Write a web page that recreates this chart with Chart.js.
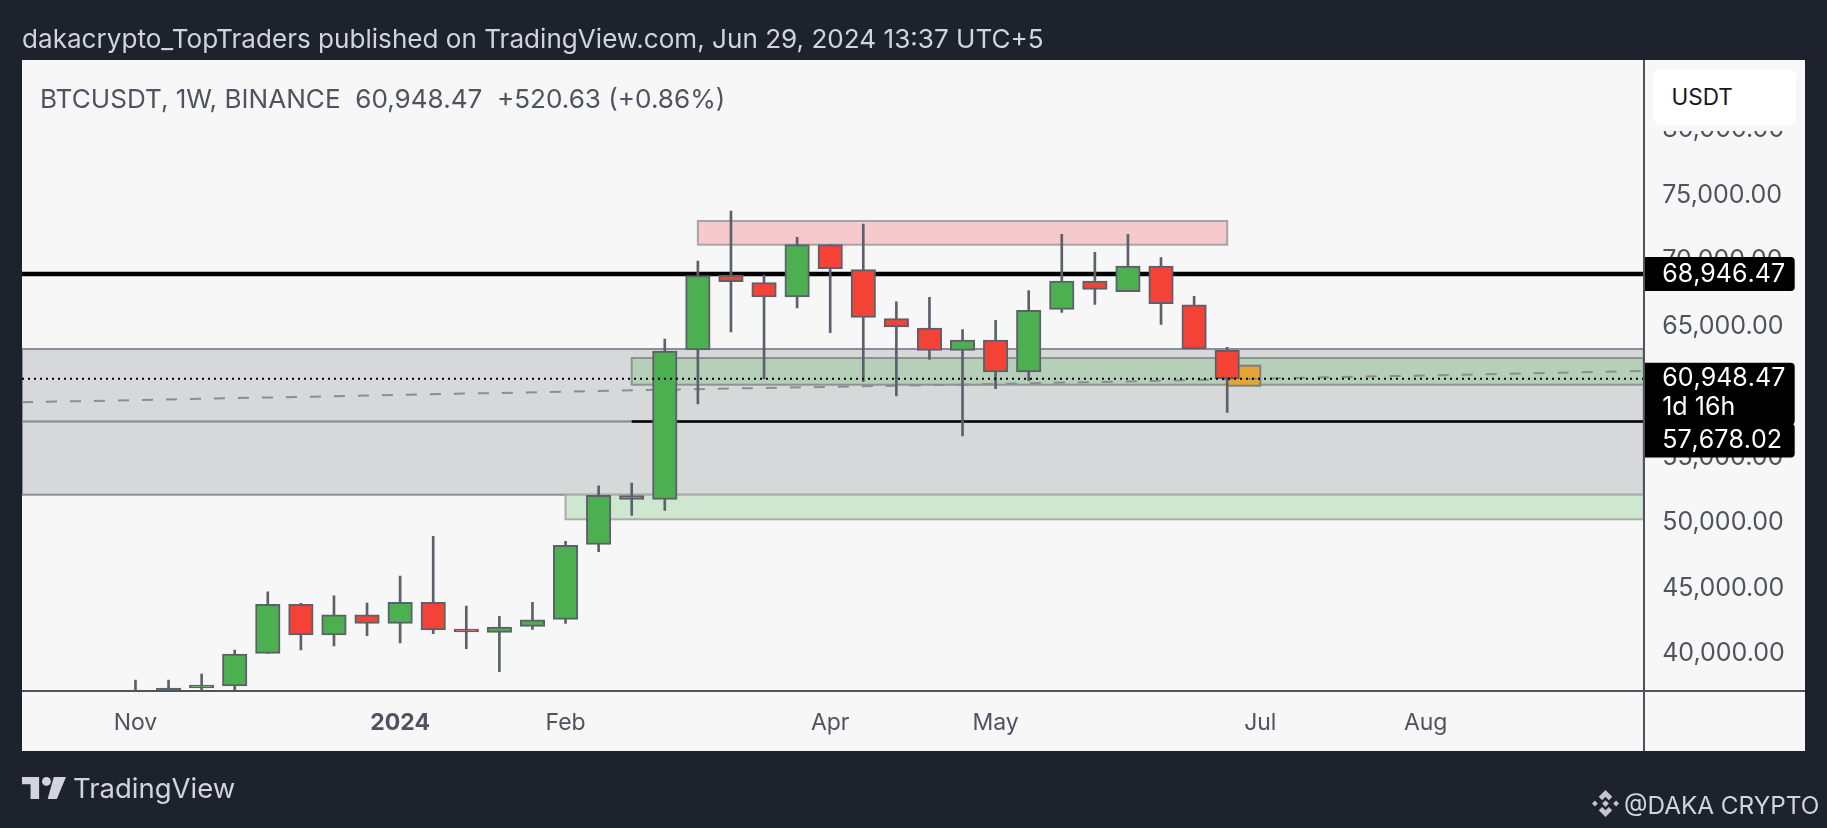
<!DOCTYPE html>
<html lang="en">
<head>
  <meta charset="UTF-8" />
  <title>BTCUSDT 1W</title>
  <script src="https://cdn.jsdelivr.net/npm/chart.js"></script>
  <style>
    html, body { margin: 0; width: 1827px; height: 828px; overflow: hidden; background: #1e222d; font-family: Inter, sans-serif; }
    .abs { position: absolute; white-space: nowrap; }
    #panel { left: 22px; top: 59.5px; width: 1782.5px; height: 691px; background: #f7f7f7; }
    #chart { position: absolute; left: 0; top: 0; }
    #title { left: 22px; top: 24px; font-size: 26.1px; line-height: 30px; color: #d1d4dc; }
    #legend { left: 40px; top: 84px; font-size: 26.1px; line-height: 30px; color: #50535e; white-space: pre; }
    #vline { left: 1643px; top: 59.5px; width: 1.5px; height: 691px; background: #50535e; }
    #hline { left: 22px; top: 690px; width: 1782.5px; height: 2px; background: #50535e; }
    #mask { left: 1644.5px; top: 60px; width: 160px; height: 71px; background: #f7f7f7; }
    #usdt { left: 1652.5px; top: 68.5px; width: 143px; height: 56px; background: #fff; border-radius: 8px; color: #131722; font-size: 22.5px; line-height: 56px; text-indent: 19px; }
    #logo { left: 22px; top: 777px; width: 44px; height: 22px; fill: #d1d4dc; }
    #brand { left: 73px; top: 772px; font-size: 27.5px; line-height: 32px; color: #d1d4dc; }
    #mark { left: 1592px; top: 790px; width: 27px; height: 27px; fill: #c3c6ce; }
    #credit { left: 1624px; top: 790px; font-size: 24.3px; line-height: 30px; color: #d1d4dc; }
  </style>
</head>
<body>
  <div class="abs" id="panel"></div>
  <canvas id="chart" width="1827" height="828"></canvas>
  <div class="abs" id="vline"></div>
  <div class="abs" id="hline"></div>
  <div class="abs" id="mask"></div>
  <div class="abs" id="usdt">USDT</div>
  <div class="abs" id="title">dakacrypto_TopTraders published on TradingView.com, Jun 29, 2024 13:37 UTC+5</div>
  <div class="abs" id="legend">BTCUSDT, 1W, BINANCE  60,948.47  +520.63 (+0.86%)</div>
  <svg class="abs" id="logo" viewBox="0 0 36 18"><path d="M14 0H0v6h7v12h7zM28.500 18H21L26 0h10z"/><circle cx="20" cy="3.600" r="3.600"/></svg>
  <div class="abs" id="brand">TradingView</div>
  <svg class="abs" id="mark" viewBox="0 0 28 28"><path d="M14 0l7 7-3.500 3.500L14 7l-3.500 3.500L7 7zM14 28l-7-7 3.500-3.500L14 21l3.500-3.500L21 21zM3 11l3 3-3 3-3-3zM25 11l3 3-3 3-3-3zM14 10.500l3.500 3.500-3.500 3.500-3.500-3.500z"/></svg>
  <div class="abs" id="credit">@DAKA CRYPTO</div>

  <script>
    // weekly candles (first three sit partly under the axis)
    const opens  = [36100, 36600, 37341, 37494, 39990, 43731, 41387, 42937, 42280, 43884, 41845, 41593, 42051, 42586, 48311, 52036, 51746, 63144, 68870, 68282, 67190, 71183, 69274, 65534, 64824, 63121, 63908, 61465, 66251, 68412, 67595, 69557, 66602, 63121];
    const closes = [36600, 37341, 37570, 39937, 43731, 41387, 42937, 42280, 43884, 41769, 41616, 41998, 42555, 48235, 52052, 51731, 63068, 68816, 68358, 67190, 71183, 69351, 65640, 64900, 63121, 63908, 61465, 66175, 68412, 67778, 69557, 66679, 63220, 60948.47];
    const highs  = [37952, 37952, 38410, 40242, 44693, 43807, 44387, 43830, 45891, 48922, 43601, 42815, 43884, 48540, 52785, 52991, 63984, 69938, 73755, 68870, 71748, 71183, 72763, 66831, 67167, 64694, 65411, 67671, 71977, 70603, 71977, 70190, 67244, 63350];
    const lows   = [35900, 36300, 37135, 37100, 39990, 40242, 40548, 41334, 40777, 41486, 40341, 38585, 41822, 42280, 47746, 50525, 50907, 59022, 64518, 60930, 66350, 64465, 60724, 59633, 62434, 56579, 60190, 60801, 66022, 66633, 67595, 65106, 63220, 58388];

    const xTickWeeks  = [0, 8, 13, 21, 26, 34, 39];
    const xTickLabels = ["Nov", "2024", "Feb", "Apr", "May", "Jul", "Aug"];
    const yTickValues = [40000, 45000, 50000, 55000, 60000, 65000, 70000, 75000, 80000];
    const xRange = [-3.43, 45.59];
    const yRange = [37114, 85320];

    // horizontal levels and the long moving average
    const resistanceLine = 68946.47;
    const supportLine = 57678.02;
    const supportFromWeek = 15;
    const lastPrice = 60948.47;
    const maWeeks  = [-3.43, 16, 26, 34, 45.59];
    const maPrices = [59152, 60114, 60549, 60953, 61541];

    // drawn zones: grey, grey, green, green, pink, orange
    const boxStartWeeks = [-3.43, -3.43, 15, 13, 17, 33];
    const boxEndWeeks   = [45.59, 45.59, 45.59, 45.59, 33, 34];
    const boxHighPrices = [63220, 57678, 62533, 52098, 72992, 61946];
    const boxLowPrices  = [57678, 52098, 60495, 50220, 71183, 60419];

    const priceTags = [68946.47, 60948.47, 57678.02];
    const countdown = "1d 16h";

    const boxFills   = ["#d7d8da", "#d7d8da", "#b5cfb8", "#cfe7d1", "#f6c9cd", "#e6a530"];
    const boxStrokes = ["#8c8e97", "#8c8e97", "#8c9690", "#a6b0a8", "#a8a3a5", "#7f7f82"];
    const tagOffsets = [0, 0, 19];
    const tagBelow   = [17, 46, 17];
    const tagAbove   = [17, 16, 17];

    const money = v => v.toLocaleString("en-US", { minimumFractionDigits: 2, maximumFractionDigits: 2 });
    const CANDLE_EDGE = "#5d606b";
    const TEXT = "#50535e";

    const zonesPlugin = {
      id: "zones",
      beforeDatasetsDraw(chart) {
        const { ctx, chartArea, scales: { x, y } } = chart;
        ctx.save();
        ctx.beginPath();
        ctx.rect(chartArea.left, chartArea.top, chartArea.width, chartArea.height);
        ctx.clip();
        boxStartWeeks.forEach((start, i) => {
          const left = x.getPixelForValue(start);
          const right = x.getPixelForValue(boxEndWeeks[i]);
          const top = y.getPixelForValue(boxHighPrices[i]);
          const bottom = y.getPixelForValue(boxLowPrices[i]);
          ctx.fillStyle = boxFills[i];
          ctx.fillRect(left, top, right - left, bottom - top);
          ctx.strokeStyle = boxStrokes[i];
          ctx.lineWidth = 2;
          ctx.strokeRect(left, top, right - left, bottom - top);
        });
        ctx.restore();
      }
    };

    const tagsPlugin = {
      id: "tags",
      afterDraw(chart) {
        const { ctx, chartArea, scales: { y } } = chart;
        ctx.save();
        ctx.font = "25px Inter, sans-serif";
        ctx.fontKerning = "none";
        ctx.textBaseline = "middle";
        priceTags.forEach((price, i) => {
          const mid = y.getPixelForValue(price) + tagOffsets[i];
          ctx.fillStyle = "#000";
          ctx.beginPath();
          ctx.roundRect(chartArea.right, mid - tagAbove[i], 151, tagAbove[i] + tagBelow[i], [0, 4, 4, 0]);
          ctx.fill();
          ctx.fillStyle = "#fff";
          ctx.fillText(money(price), chartArea.right + 18.5, mid);
          if (price === lastPrice) ctx.fillText(countdown, chartArea.right + 18.5, mid + 28.5);
        });
        ctx.restore();
      }
    };

    const weeks = opens.map((_, i) => i);
    const level = (from, value) => [{ x: from, y: value }, { x: xRange[1], y: value }];

    new Chart(document.getElementById("chart"), {
      data: {
        datasets: [
          { type: "bar", grouped: false, order: 2, barThickness: 2,
            data: weeks.map(i => ({ x: i, y: [lows[i], highs[i]] })),
            backgroundColor: CANDLE_EDGE },
          { type: "bar", grouped: false, order: 1, barThickness: 24.5, borderWidth: 2, borderSkipped: false,
            data: weeks.map(i => ({ x: i, y: [opens[i], closes[i]] })),
            backgroundColor: weeks.map(i => closes[i] >= opens[i] ? "#4caf50" : "#f44336"),
            borderColor: CANDLE_EDGE },
          { type: "line", order: 5, data: level(xRange[0], resistanceLine), borderColor: "#000", borderWidth: 4.5, pointRadius: 0 },
          { type: "line", order: 4, data: level(supportFromWeek, supportLine), borderColor: "#000", borderWidth: 2.5, pointRadius: 0 },
          { type: "line", order: 3, data: maWeeks.map((w, i) => ({ x: w, y: maPrices[i] })),
            borderColor: "#8a8d95", borderWidth: 2, borderDash: [11, 13], pointRadius: 0 },
          { type: "line", order: 0, data: level(xRange[0], lastPrice),
            borderColor: "#000", borderWidth: 2, borderDash: [2, 4], pointRadius: 0 }
        ]
      },
      options: {
        responsive: false,
        animation: false,
        events: [],
        layout: { padding: { left: 22, top: 59.5, right: 0, bottom: 0 } },
        plugins: { legend: { display: false }, tooltip: { enabled: false } },
        scales: {
          x: {
            type: "linear",
            offset: false,
            min: xRange[0],
            max: xRange[1],
            grid: { display: false, offset: false, drawTicks: false },
            border: { display: false },
            afterBuildTicks: axis => { axis.ticks = xTickWeeks.map(value => ({ value })); },
            afterFit: axis => { axis.height = 137; },
            ticks: {
              autoSkip: false,
              maxRotation: 0,
              padding: 18,
              color: TEXT,
              font: ctx => ({ family: "Inter, sans-serif", size: 23, weight: ctx.tick && ctx.tick.value === 8 ? "bold" : "normal" }),
              callback: value => xTickLabels[xTickWeeks.indexOf(value)]
            }
          },
          y: {
            position: "right",
            min: yRange[0],
            max: yRange[1],
            grid: { display: false, drawTicks: false },
            border: { display: false },
            afterBuildTicks: axis => { axis.ticks = yTickValues.map(value => ({ value })); },
            afterFit: axis => { axis.width = 183.3; },
            ticks: {
              autoSkip: false,
              padding: 18.5,
              labelOffset: 0.5,
              crossAlign: "near",
              color: TEXT,
              font: { family: "Inter, sans-serif", size: 25 },
              callback: value => money(value)
            }
          }
        }
      },
      plugins: [zonesPlugin, tagsPlugin]
    });
  </script>
</body>
</html>
